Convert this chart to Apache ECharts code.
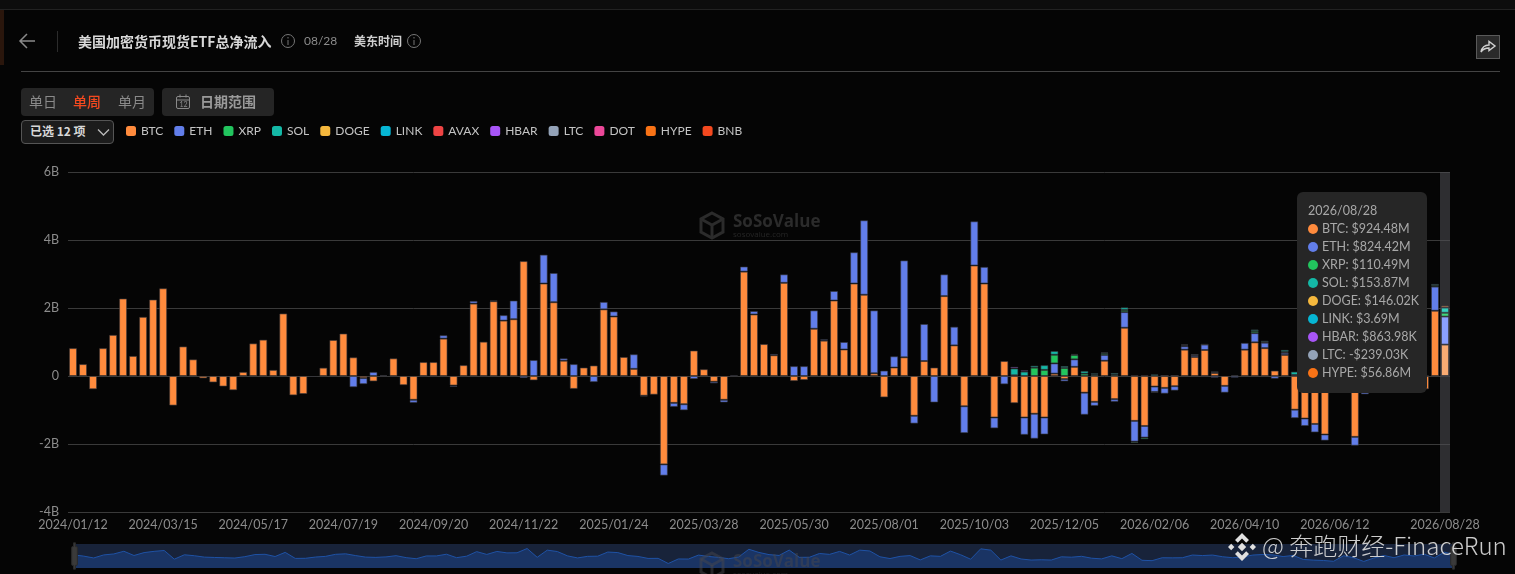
<!DOCTYPE html>
<html lang="zh-CN"><head><meta charset="utf-8"><title>美国加密货币现货ETF总净流入</title>
<script src="https://cdn.jsdelivr.net/npm/echarts@6/dist/echarts.min.js"></script>
<style>
html,body{margin:0;padding:0;width:1515px;height:574px;overflow:hidden;background:#050505;font-family:Lato,"Noto Sans CJK SC",sans-serif}
#chart{position:absolute;left:0;top:0;width:1515px;height:574px}
.a{position:absolute;white-space:nowrap;line-height:1;z-index:3}
.box{position:absolute;border-radius:4px;z-index:3}
svg{position:absolute;z-index:3;overflow:visible}
</style></head><body>
<div id="chart"></div>
<div class="box" style="left:0;top:0;width:1515px;height:9px;background:#0d0d0d;border-bottom:1px solid #222;border-radius:0"></div>
<div class="box" style="left:0;top:10px;width:4px;height:55px;background:#2a160c;border-radius:0"></div>
<svg style="left:19px;top:33px" width="17" height="16" fill="none" stroke="#8a8a8a" stroke-width="1.5"><path d="M16 8H1M8 1L1 8l7 7"/></svg>
<div class="box" style="left:57px;top:31px;width:1px;height:21px;background:#2c2c2c;border-radius:0"></div>
<div class="a" style="left:78px;top:34px;font-size:14px;font-weight:700;color:#d8d8d8;font-family:'Noto Sans CJK SC'">美国加密货币现货ETF总净流入</div>
<svg style="left:281px;top:34px" width="14" height="14" fill="none" stroke="#777"><circle cx="7" cy="7" r="6.5"/><path d="M7 6v5M7 3v1.5"/></svg>
<div class="a" style="left:304px;top:35px;font-size:12px;color:#8c8c8c">08/28</div>
<div class="a" style="left:354px;top:35px;font-size:12px;font-weight:700;color:#cfcfcf;font-family:'Noto Sans CJK SC'">美东时间</div>
<svg style="left:407px;top:34px" width="14" height="14" fill="none" stroke="#777"><circle cx="7" cy="7" r="6.5"/><path d="M7 6v5M7 3v1.5"/></svg>
<div class="box" style="left:1476px;top:35px;width:22px;height:22px;background:#2a2a2a;border:1px solid #5a5a5a;border-radius:0"></div>
<svg style="left:1480px;top:39px" width="16" height="16" fill="none" stroke="#d0d0d0" stroke-width="1.4"><path d="M1 13C2 8 5 6 9 6V2.5L15 7l-6 4.5V9C6 9 3 10 1 13z"/></svg>
<div class="box" style="left:21px;top:71px;width:1479px;height:1px;background:#444;border-radius:0"></div>
<div class="box" style="left:21px;top:88px;width:133px;height:28px;background:#252525"></div>
<div class="a" style="left:29px;top:94px;font-size:14px;color:#8a8a8a;font-family:'Noto Sans CJK SC'">单日</div>
<div class="a" style="left:73px;top:94px;font-size:14px;font-weight:500;color:#f4491f;font-family:'Noto Sans CJK SC'">单周</div>
<div class="a" style="left:118px;top:94px;font-size:14px;color:#8a8a8a;font-family:'Noto Sans CJK SC'">单月</div>
<div class="box" style="left:162px;top:88px;width:112px;height:28px;background:#252525"></div>
<svg style="left:176px;top:94px" width="15" height="16" fill="none" stroke="#8a8a8a"><rect x=".5" y="2.5" width="13" height="12" rx="1.5"/><path d="M.5 6h13M4 .5v3M10 .5v3"/><text x="3.5" y="13" font-size="7" fill="#8a8a8a" stroke="none">12</text></svg>
<div class="a" style="left:200px;top:94px;font-size:14px;font-weight:700;color:#9a9a9a;font-family:'Noto Sans CJK SC'">日期范围</div>
<div class="box" style="left:21px;top:120px;width:91px;height:22px;background:#1c1c1c;border:1px solid #555"></div>
<div class="a" style="left:30px;top:125px;font-size:12px;font-weight:700;color:#d8d8d8;font-family:'Noto Sans CJK SC'">已选 12 项</div>
<svg style="left:97px;top:128px" width="13" height="9" fill="none" stroke="#bbb" stroke-width="1.3"><path d="M1 1.5l5.500 5.500L12 1.500"/></svg>
<svg style="left:1228px;top:533px;z-index:5" width="28" height="28" fill="#e0e0e0"><path d="M14 0l7 7-2.800 2.800L14 5.600l-4.200 4.200L7 7zM14 28l7-7-2.800-2.800L14 22.400l-4.200-4.200L7 21zM0 14l3.200-3.200L6.400 14l-3.200 3.200zM21.600 14l3.200-3.200L28 14l-3.200 3.200zM14 9.800l4.200 4.200L14 18.200 9.800 14z"/></svg>
<div class="a" style="left:1262px;top:533px;font-size:24px;color:rgba(225,225,225,.9);z-index:5;font-family:'Noto Sans CJK SC';font-weight:300">@ 奔跑财经-FinaceRun</div>
<script>
const N = n => Array(n).fill(null);
const dates = [];
for (let d = new Date(Date.UTC(2024,0,12)); d <= new Date(Date.UTC(2026,7,28)); d = new Date(d.getTime()+7*864e5)) {
  dates.push(d.toISOString().slice(0,10).replace(/-/g,'/'));
}
// Net weekly flows in $B (index 126,127,130-134 sit behind the tooltip and are estimates)
const BTC = [
 .82,.35,-.39,.82,1.21,2.28,.59,1.74,2.25,2.58,
 -.87,.87,.49,-.07,-.19,-.31,-.42,.12,.96,1.07,
 .18,1.84,-.57,-.53,-.03,.245,1.06,1.25,.55,-.06,
 -.16,.03,.52,-.27,-.70,.41,.41,1.10,-.28,.32,
 2.13,1.01,2.20,1.63,1.67,3.38,-.13,2.72,2.17,.45,
 -.38,.25,.31,1.96,1.75,.56,.21,-.58,-.55,-2.60,
 -.79,-.83,.75,.20,-.17,-.70,.02,3.07,1.81,.94,
 .61,2.74,-.15,-.12,1.39,1.04,2.22,.78,2.72,2.39,
 .08,-.63,.25,.55,-1.17,.44,.25,2.35,.90,-.89,
 3.25,2.72,-1.22,.44,-.80,-1.22,-1.11,-1.22,.07,-.09,
 .27,-.49,-.76,.45,-.68,1.42,-1.32,-1.47,-.31,-.35,
 -.30,.775,.56,.765,.09,-.29,.03,.775,.99,.82,
 .16,.62,-.99,-1.25,-1.41,-1.72,.5,-.3,-1.79,-.42,
 .6,-.3,.8,.4,1.1,-.39,1.92,.92448];
const ETH = [...N(28),
 -.33,-.18,
 .12,-.02,-.03,null,-.09,-.01,-.02,.10,-.04,null,
 .08,-.02,.02,.16,.55,-.06,.47,.85,.86,.07,
 .35,-.02,-.18,.22,.15,-.03,.43,-.02,null,-.33,
 -.12,-.18,-.09,null,-.05,-.08,-.02,.15,.10,-.02,
 .04,.25,.29,.29,.54,.04,.28,.22,.92,2.19,
 1.85,.16,.33,2.85,-.23,1.09,-.78,.64,.55,-.79,
 1.30,.49,-.32,-.245,.02,-.51,-.735,-.5,.30,-.07,
 .22,-.65,-.12,.17,-.08,.46,-.61,-.34,-.16,-.17,
 -.13,.10,.05,.16,-.05,-.2,-.05,.2,.27,.16,
 -.08,.06,-.25,-.22,-.25,-.18,.1,-.1,-.26,-.12,
 .1,-.1,.2,.1,.2,null,.71,.82442];
const XRP = [...N(96),
 .245,.18,.255,.235,.13,.07,.04,.05,.04,.06,-.04,-.05,-.02,.01,
 .01,.03,.01,-.02,.02,null,null,null,.06,.02,
 null,.03,.03,null,null,null,.02,.01,.03,.01,
 .02,.01,.03,.01,.03,null,.04,.11049];
const SOL = [...N(94),
 .2,.13,.06,.14,.11,.06,
 .03,.08,.04,.03,.05,.08,.02,.02,.05,.01,
 .01,.03,.02,.01,.02,null,null,null,.05,.04,
 null,.06,.10,.05,.04,.03,.03,.02,.05,.03,
 .03,.02,.04,.03,.04,.01,.04,.15387];
const DOGE = [...N(137), .00014602];
const LINK = [...N(137), .00369];
const AVAX = N(138);
const HBAR = [...N(94), .05, .04, ...N(41), .00086398];
const LTC = [...N(137), -.00023903];
const DOT = N(138);
const HYPE = [...N(137), .05686];
const BNB = N(138);

const names = ['BTC','ETH','XRP','SOL','DOGE','LINK','AVAX','HBAR','LTC','DOT','HYPE','BNB'];
const values = [BTC,ETH,XRP,SOL,DOGE,LINK,AVAX,HBAR,LTC,DOT,HYPE,BNB];
const colors = ['#ff8b3d','#627eea','#22c55e','#14b8a6','#f5b83d','#06b6d4','#ef4444','#a855f7','#94a3b8','#ec4899','#f97316','#f4491f'];
const lighter = ['#f9ab73','#8ba0ff','#3fd87a','#35d0be','#f8cd70','#35cbe3','#f47070','#bf84f9','#b0bccb','#f278b5','#fa9a55','#f77350'];
const money = v => { const a=Math.abs(v)*1e9, s=v<0?'-$':'$';
  return a>=1e9? s+(a/1e9).toFixed(2)+'B' : a>=1e6? s+(a/1e6).toFixed(2)+'M' : s+(a/1e3).toFixed(2)+'K'; };
const labelIdx = i => (i%9===0 && i<=126) || i===137;
const wm = (x,y,z,c1,c2) => ({type:'group',x,y,silent:true,children:[
  {type:'polygon',z,shape:{points:[[11,0],[22,6],[22,19],[11,25],[0,19],[0,6]]},style:{fill:'none',stroke:c1,lineWidth:3}},
  {type:'polyline',z,shape:{points:[[0,6],[11,12],[22,6]]},style:{fill:'none',stroke:c1,lineWidth:3}},
  {type:'line',z,shape:{x1:11,y1:12,x2:11,y2:25},style:{stroke:c1,lineWidth:3}},
  {type:'text',z,style:{x:32,y:1,text:'SoSoValue',fill:c1,font:'700 17px "Open Sans"'}},
  {type:'text',z,style:{x:32,y:18,text:'sosovalue.com',fill:c2,font:'8px "Open Sans"'}}
]});
const chart = echarts.init(document.getElementById('chart'),null,{renderer:'canvas'});
chart.setOption({
  animation:false,
  backgroundColor:'#050505',
  color:colors,
  textStyle:{fontFamily:'Lato'},
  legend:{left:126,top:125,padding:0,itemWidth:10,itemHeight:10,itemGap:11,icon:'roundRect',inactiveColor:'#555',
    itemStyle:{borderWidth:0},
    textStyle:{color:'#c4c4c4',fontSize:12,fontFamily:'Lato'},data:names},
  grid:{left:68,right:65,top:172,bottom:62},
  tooltip:{trigger:'axis',alwaysShowContent:true,transitionDuration:0,confine:false,
    axisPointer:{type:'shadow',z:0,shadowStyle:{color:'rgba(80,80,85,.55)'}},
    backgroundColor:'#262626',borderWidth:0,padding:[9,10,11,11],extraCssText:'border-radius:6px;box-shadow:none;width:109px;',
    textStyle:{color:'#a8a8a8',fontSize:12.5,fontFamily:'Lato'},
    position:()=>[1297,192],
    formatter:ps=>{
      let h='<div style="line-height:18px;height:18px;margin-top:1px">'+ps[0].axisValue+'</div>';
      ps.forEach(p=>{ if(p.value==null) return;
        h+='<div style="line-height:18px;height:18px;white-space:nowrap"><span style="display:inline-block;width:10px;height:10px;border-radius:50%;background:'+p.color+';margin-right:4px;vertical-align:-1px"></span>'+p.seriesName+': '+money(p.value)+'</div>';});
      return h;}},
  xAxis:{type:'category',data:dates,
    axisLine:{show:false,onZero:false},axisTick:{show:false},splitLine:{show:false},
    axisLabel:{color:'#8c8c8c',fontSize:12.5,margin:6,interval:i=>labelIdx(i),hideOverlap:false,showMaxLabel:true,fontFamily:'Lato'}},
  yAxis:{type:'value',min:-4,max:6,interval:2,axisLine:{show:false},axisTick:{show:false},
    axisLabel:{color:'#8c8c8c',fontSize:12.5,margin:9,fontFamily:'Lato',formatter:v=>v===0?'0':v+'B'},
    splitLine:{lineStyle:{color:'#3a3a3a',width:1}}},
  dataZoom:[{type:'slider',xAxisIndex:0,start:0,end:100,left:71,right:63,bottom:6,height:24,
    backgroundColor:'#18233a',borderColor:'transparent',fillerColor:'rgba(0,0,0,0)',
    showDetail:false,brushSelect:false,moveHandleSize:0,realtime:false,
    handleIcon:'path://M2,0h2v4h1a1,1,0,0,1,1,1v18a1,1,0,0,1,-1,1h-1v4h-2v-4h-1a1,1,0,0,1,-1,-1v-18a1,1,0,0,1,1,-1h1z',
    handleSize:'110%',handleStyle:{color:'#3a3a3a',borderColor:'#2a2a2a'},
    dataBackground:{lineStyle:{color:'#1f52a5',width:1,opacity:1},areaStyle:{color:'#1a3464',opacity:1}},
    selectedDataBackground:{lineStyle:{color:'#1f52a5',width:1,opacity:1},areaStyle:{color:'#1a3464',opacity:1}},
    emphasis:{handleStyle:{color:'#3a3a3a'}}}],
  graphic:[wm(701,213,-1,'#2b2b2b','#262626'),wm(701,553,100,'rgba(70,70,75,.5)','rgba(60,60,65,.5)')],
  series:names.map((n,i)=>({name:n,type:'bar',stack:'flow',data:values[i],barWidth:8,z:2,
    itemStyle:{color:colors[i],borderColor:'rgba(55,55,60,.6)',borderWidth:1},
    emphasis:{itemStyle:{color:lighter[i]}}}))
});
chart.dispatchAction({type:'showTip',seriesIndex:0,dataIndex:137});
if(values.some(v=>v.length!==dates.length)) throw new Error('len vs '+dates.length);
</script>
</body></html>
